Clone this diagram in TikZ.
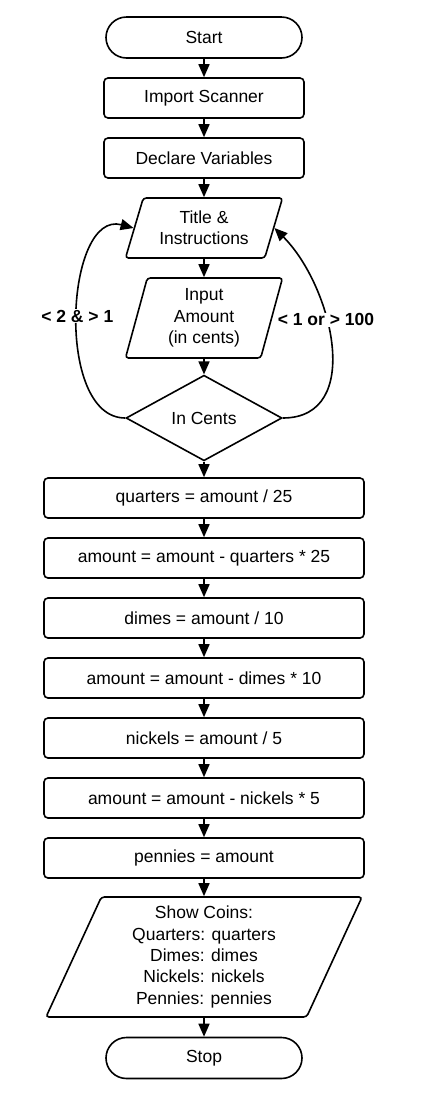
\documentclass[tikz,border=0pt]{standalone}
\usepackage{fontspec}
\setmainfont{Liberation Sans}
\usetikzlibrary{shapes.geometric,shapes.misc,arrows.meta}
\tikzset{
  base/.style={draw, line width=1.6pt, font=\fontsize{17.5}{21.3}\selectfont, align=center, inner sep=2pt},
  term/.style={base, rounded rectangle, minimum width=200pt, minimum height=41pt},
  proc/.style={base, rectangle, rounded corners=4pt, minimum height=40pt},
  io/.style={base, trapezium, trapezium stretches body, rounded corners=3pt},
  cond/.style={base, diamond, minimum width=156pt, minimum height=78pt},
  loop/.style={font=\fontsize{17.5}{21}\selectfont\bfseries, fill=white, inner sep=1pt}
}
\begin{document}
\begin{tikzpicture}[x=1pt, y=1pt, line width=1.6pt, >={Triangle[length=13pt,width=11pt]}]
            \useasboundingbox (0,0) rectangle (422,-1112);
            \node[term] (start) at (204,-37.5) {Start};
            \node[proc, minimum width=200pt] (scan) at (204,-98) {Import Scanner};
            \node[proc, minimum width=200pt] (decl) at (204,-158) {Declare Variables};
            \node[io, trapezium left angle=65, trapezium right angle=115, minimum width=157pt, minimum height=60pt] (title) at (204,-228) {Title \&\\Instructions};
            \node[io, trapezium left angle=70.7, trapezium right angle=109.3, minimum width=157pt, minimum height=80pt] (input) at (204,-318) {Input\\Amount\\(in cents)};
            \node[cond] (cents) at (204,-418) {In Cents};
            \node[proc, minimum width=320pt] (quart) at (204,-498) {quarters = amount / 25};
            \node[proc, minimum width=320pt] (amtq) at (204,-558) {amount = amount - quarters * 25};
            \node[proc, minimum width=320pt] (dime) at (204,-618) {dimes = amount / 10};
            \node[proc, minimum width=320pt] (amtd) at (204,-678) {amount = amount - dimes * 10};
            \node[proc, minimum width=320pt] (nick) at (204,-738) {nickels = amount / 5};
            \node[proc, minimum width=320pt] (amtn) at (204,-798) {amount = amount - nickels * 5};
            \node[proc, minimum width=320pt] (penn) at (204,-858) {pennies = amount};
            \node[io, trapezium left angle=62.3, trapezium right angle=117.7, minimum width=316pt, minimum height=120pt] (show) at (204,-957) {Show Coins:\\Quarters: quarters\\Dimes: dimes\\Nickels: nickels\\Pennies: pennies};
            \node[term] (stop) at (204,-1058) {Stop};
            % main flow
            \draw[->] (start) -- (scan);
            \draw[->] (scan) -- (decl);
            \draw[->] (decl) -- (title);
            \draw[->] (title) -- (input);
            \draw[->] (input) -- (cents);
            \draw[->] (cents) -- (quart);
            \draw[->] (quart) -- (amtq);
            \draw[->] (amtq) -- (dime);
            \draw[->] (dime) -- (amtd);
            \draw[->] (amtd) -- (nick);
            \draw[->] (nick) -- (amtn);
            \draw[->] (amtn) -- (penn);
            \draw[->] (penn) -- (show);
            \draw[->] (show) -- (stop);
            % loops back
            \draw[->] (cents.west) to[out=180, in=165, looseness=0.95] node[loop] {< 2 \& > 1} (title.west);
            \draw[->] (cents.east) to[out=0, in=-45, looseness=1.1] node[loop, pos=0.6] {< 1 or > 100} (title.east);
        \end{tikzpicture}
\end{document}
